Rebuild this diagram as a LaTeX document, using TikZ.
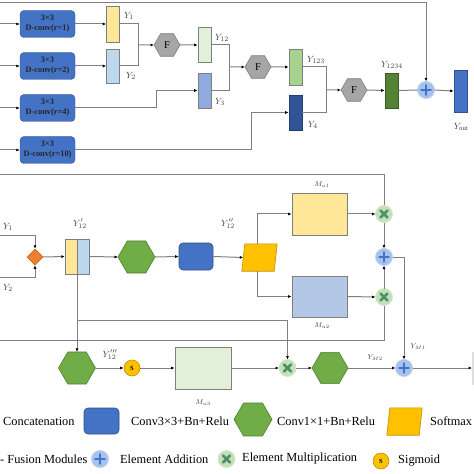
\documentclass[tikz,border=0pt]{standalone}
\usepackage{fontspec}
\setmainfont{Liberation Serif}
\usetikzlibrary{shapes.geometric,arrows.meta}
\definecolor{linegray}{HTML}{808080}
\definecolor{convblue}{HTML}{4472C4}
\definecolor{convborder}{HTML}{2F528F}
\definecolor{fyel}{HTML}{FFE699}
\definecolor{flblue}{HTML}{BDD7EE}
\definecolor{flgreen}{HTML}{E2F0D9}
\definecolor{fmblue}{HTML}{8FAADC}
\definecolor{fmgreen}{HTML}{A9D18E}
\definecolor{fdblue}{HTML}{2F5597}
\definecolor{fdgreen}{HTML}{548235}
\definecolor{hexgray}{HTML}{A6A6A6}
\definecolor{hexgrayb}{HTML}{7F7F7F}
\definecolor{hexgreen}{HTML}{70AD47}
\definecolor{hexgreenb}{HTML}{507E32}
\definecolor{plusfill}{HTML}{A4C2EC}
\definecolor{plusblue}{HTML}{4472C4}
\definecolor{multfill}{HTML}{C5E0B4}
\definecolor{multx}{HTML}{4F8F6F}
\definecolor{smyel}{HTML}{FFC000}
\definecolor{smborder}{HTML}{BF9000}
\definecolor{diaor}{HTML}{ED7D31}
\definecolor{diaorb}{HTML}{C55A11}
\definecolor{mablue}{HTML}{B4C7E7}
\definecolor{labgray}{HTML}{404040}
\tikzset{
  conn/.style={draw=linegray, line width=1bp},
  arr/.style={conn, -{Latex[length=3.5bp,width=3bp,color=black]}},
  dconv/.style={draw=convborder, fill=convblue, rounded corners=4bp, minimum width=55bp, minimum height=27bp, inner sep=0, font=\fontsize{8.4}{9.8}\selectfont\bfseries, align=center, text=black!85},
  feat/.style={draw=hexgrayb, line width=0.6bp, minimum width=13bp, inner sep=0},
  hexF/.style={regular polygon, regular polygon sides=6, minimum size=26bp, inner sep=0, outer sep=0, fill=hexgray, draw=hexgrayb, line width=0.6bp, font=\fontsize{10.5}{10.5}\selectfont},
  hexG/.style={regular polygon, regular polygon sides=6, minimum size=37bp, inner sep=0, outer sep=0, fill=hexgreen, draw=hexgreenb, line width=0.6bp},
  cbox/.style={draw=convborder, fill=convblue, rounded corners=4bp, minimum width=34bp, minimum height=27bp, inner sep=0, line width=0.6bp},
  plusn/.style={circle, minimum size=17bp, inner sep=0, outer sep=0, fill=plusfill, draw=plusfill!70!white, line width=0.8bp,
    path picture={\draw[plusblue, line width=2.6bp, line cap=round]
      ([xshift=-4.6bp]path picture bounding box.center) -- ([xshift=4.6bp]path picture bounding box.center)
      ([yshift=-4.6bp]path picture bounding box.center) -- ([yshift=4.6bp]path picture bounding box.center);}},
  multn/.style={circle, minimum size=17bp, inner sep=0, outer sep=0, fill=multfill, draw=multfill!70!white, line width=0.8bp,
    path picture={\draw[multx, line width=2.6bp, line cap=round]
      ([shift={(-3.4bp,-3.4bp)}]path picture bounding box.center) -- ([shift={(3.4bp,3.4bp)}]path picture bounding box.center)
      ([shift={(-3.4bp,3.4bp)}]path picture bounding box.center) -- ([shift={(3.4bp,-3.4bp)}]path picture bounding box.center);}},
  sign/.style={circle, minimum size=16bp, inner sep=0, fill=smyel, draw=smborder, line width=0.6bp, font=\fontsize{6.5}{7}\selectfont\bfseries},
  mabox/.style={draw=hexgrayb, line width=0.8bp, minimum width=55bp, minimum height=42bp, inner sep=0},
  lab/.style={font=\fontsize{9.5}{10}\selectfont, text=labgray, inner sep=0},
  slab/.style={font=\fontsize{7}{8}\selectfont, text=labgray, inner sep=0},
  leg/.style={font=\fontsize{12.4}{14}\selectfont, anchor=west, inner sep=0},
}
\begin{document}
\begin{tikzpicture}[x=1bp,y=-1bp]
\useasboundingbox (0,0) rectangle (474,474);
\clip (0,0) rectangle (474,474);
\fill[white] (0,0) rectangle (474,474);

% ---------------- top panel ----------------
\node[dconv] (dc1) at (47.5,24) {3×3\\D-conv(r=1)};
\node[dconv] (dc2) at (47.5,66) {3×3\\D-conv(r=2)};
\node[dconv] (dc3) at (47.5,108) {3×3\\D-conv(r=4)};
\node[dconv] (dc4) at (47.5,150) {3×3\\D-conv(r=10)};
\coordinate (i1) at (0,24);
\coordinate (i2) at (0,66);
\coordinate (i3) at (0,108);
\coordinate (i4) at (0,150);
\draw[arr] (i1) -- (dc1.west);
\draw[arr] (i2) -- (dc2.west);
\draw[arr] (i3) -- (dc3.west);
\draw[arr] (i4) -- (dc4.west);

\node[feat, fill=fyel, minimum height=36bp] (y1) at (113,24) {};
\node[feat, fill=flblue, minimum height=34bp] (y2) at (113,66) {};
\node[hexF] (F1) at (167,45) {F};
\node[feat, fill=flgreen, minimum height=35bp] (y12) at (204.5,45) {};
\node[feat, fill=fmblue, minimum height=35bp] (y3) at (204.5,90.5) {};
\node[hexF] (F2) at (258,67) {F};
\node[feat, fill=fmgreen, minimum height=36bp] (y123) at (295.5,67) {};
\node[feat, fill=fdblue, draw=fdblue!70!black, minimum height=35bp] (y4) at (295.5,112.5) {};
\node[hexF] (F3) at (354,90) {F};
\node[feat, fill=fdgreen, draw=fdgreen!70!black, minimum height=35bp] (y1234) at (391.5,90.5) {};
\node[plusn] (p1) at (426,90) {};
\node[feat, fill=convblue, draw=convborder, minimum height=42bp] (yout) at (460.5,91) {};

\draw[arr] (dc1.east) -- (y1.west);
\draw[arr] (dc2.east) -- (y2.west);
\coordinate (j1) at (138,45);
\draw[conn] (y1.east) -| (j1);
\draw[conn] (y2.east) -| (j1);
\draw[arr] (j1) -- (F1.west);
\draw[arr] (F1.east) -- (y12.west);
\draw[arr] (dc3.east) -- ++(81,0) |- (y3.west);
\coordinate (j2) at (229,67);
\draw[conn] (y12.east) -| (j2);
\draw[conn] (y3.east) -| (j2);
\draw[arr] (j2) -- (F2.west);
\draw[arr] (F2.east) -- (y123.west);
\draw[arr] (dc4.east) -- ++(176,0) |- (y4.west);
\coordinate (j3) at (326,90);
\draw[conn] (y123.east) -| (j3);
\draw[conn] (y4.east) -| (j3);
\draw[arr] (j3) -- (F3.west);
\draw[arr] (F3.east) -- (y1234.west);
\draw[conn] (y1234.east) -- (p1.west);
\draw[arr] (p1.east) -- (yout.west);
\coordinate (t0) at (0,3);
\draw[arr] (t0) -| (p1.north);

\node[lab] (ly1) at (129,16) {$Y_1$};
\node[lab] (ly2) at (131,76) {$Y_2$};
\node[lab] (ly12) at (222,38) {$Y_{12}$};
\node[lab] (ly3) at (220,102) {$Y_3$};
\node[lab] (ly123) at (316,60) {$Y_{123}$};
\node[lab] (ly4) at (313,125) {$Y_4$};
\node[lab] (ly1234) at (392,65) {$Y_{1234}$};
\node[lab] (lyout) at (461,127) {$Y_{\mathrm{out}}$};

% ---------------- middle panel ----------------
\coordinate (m0) at (0,175);
\coordinate (a0) at (0,235);
\coordinate (b0) at (0,277);
\node[diamond, fill=diaor, draw=diaorb, line width=0.5bp, minimum width=16bp, minimum height=16bp, inner sep=0] (dia) at (35,257) {};
\node[minimum width=24bp, minimum height=35bp, inner sep=0] (cat) at (77,256.5) {};
\fill[fyel] (cat.north west) rectangle (cat.south);
\fill[flblue] (cat.north) rectangle (cat.south east);
\draw[hexgrayb, line width=0.6bp] (cat.north west) rectangle (cat.south east);
\draw[hexgrayb, line width=0.6bp] (cat.north) -- (cat.south);
\node[hexG] (h1) at (136.5,257) {};
\node[cbox] (cb) at (196,256.5) {};
\node[minimum width=32bp, minimum height=27bp, inner sep=0] (sm) at (259.5,257.5) {};
\filldraw[fill=smyel, draw=smborder, line width=0.6bp] ([xshift=1.5bp]sm.north west) -- ([xshift=1.5bp]sm.north east) -- ([xshift=-1.5bp]sm.south east) -- ([xshift=-1.5bp]sm.south west) -- cycle;
\node[mabox, fill=fyel] (ma1) at (319.5,214) {};
\node[mabox, fill=mablue, minimum height=41bp] (ma2) at (319.5,296.5) {};
\node[multn] (x1) at (384,214) {};
\node[plusn] (p2) at (384,257) {};
\node[multn] (x2) at (384,297) {};

\draw[conn] (m0) -| (x1.north);
\draw[arr] (a0) -| (dia.north);
\draw[arr] (b0) -| (dia.south);
\draw[arr] (dia.east) -- (cat.west);
\draw[arr] (cat.east) -- (h1.west);
\draw[arr] (h1.east) -- (cb.west);
\draw[arr] (cb.east) -- (sm.west);
\draw[arr] ([xshift=-2.5bp]sm.north) |- (ma1.west);
\draw[arr] ([xshift=-2.5bp]sm.south) |- (ma2.west);
\draw[arr] (ma1.east) -- (x1.west);
\draw[arr] (ma2.east) -- (x2.west);
\draw[arr] (x1.south) -- (p2.north);
\draw[arr] (x2.north) -- (p2.south);
\coordinate (m1) at (0,340);
\draw[conn] (x2.south) |- (m1);

\node[lab] (lya) at (8,227) {$Y_1$};
\node[lab] (lyb) at (8,288) {$Y_2$};
\node[lab] (ly12p) at (80,224) {$Y'_{12}$};
\node[lab] (ly12pp) at (228,224) {$Y''_{12}$};
\node[slab] (lma1) at (322,185) {$M_{a1}$};
\node[slab] (lma2) at (322,326) {$M_{a2}$};

% ---------------- bottom row ----------------
\node[hexG] (h2) at (77,368) {};
\node[sign] (s1) at (132,368) {S};
\node[mabox, fill=flgreen, minimum width=56bp] (ma3) at (203,368) {};
\node[multn] (x3) at (287.5,368) {};
\node[hexG, minimum size=36bp] (h3) at (330,368) {};
\node[plusn] (p3) at (404,368) {};
\fill[gray!25] (472,352) rectangle (480,385);
\coordinate (e1) at (472,368);
\coordinate (c320) at (77,320);

\draw[arr] (cat.south) -- (h2.north);
\draw[arr] (c320) -| (x3.north);
\draw[arr] (p2.east) -| (p3.north);
\draw[arr] (h2.east) -- (s1.west);
\draw[arr] (s1.east) -- (ma3.west);
\draw[arr] (ma3.east) -- (x3.west);
\draw[arr] (x3.east) -- (h3.west);
\draw[arr] (h3.east) -- (p3.west);
\draw[arr] (p3.east) -- (e1);

\node[lab] (ly12ppp) at (110,355) {$Y'''_{12}$};
\node[slab] (lma3) at (203,403) {$M_{a3}$};
\node[slab] (lym1) at (418,347) {$Y_{M1}$};
\node[slab] (lym2) at (375,358) {$Y_{M2}$};

% ---------------- legend ----------------
\node[leg] (t1) at (3,421) {Concatenation};
\node[cbox, minimum width=35bp, minimum height=26bp] (lg1) at (101.5,421) {};
\node[leg] (t2) at (131,421) {Conv3×3+Bn+Relu};
\node[hexG, minimum size=38bp] (lg2) at (253,419.5) {};
\node[leg] (t3) at (277,421) {Conv1×1+Bn+Relu};
\node[minimum width=32bp, minimum height=27bp, inner sep=0] (lg3) at (404.5,421.5) {};
\filldraw[fill=smyel, draw=smborder, line width=0.6bp] ([xshift=1.5bp]lg3.north west) -- ([xshift=1.5bp]lg3.north east) -- ([xshift=-1.5bp]lg3.south east) -- ([xshift=-1.5bp]lg3.south west) -- cycle;
\node[leg] (t4) at (430,421) {Softmax};

\node[leg] (t5) at (0,459) {- Fusion Modules};
\node[plusn] (lg4) at (100,459) {};
\node[leg] (t6) at (120,459) {Element Addition};
\node[multn] (lg5) at (226.5,459) {};
\node[leg] (t7) at (242,459) {Element Multiplication};
\node[sign] (lg6) at (381,461) {S};
\node[leg] (t8) at (398,461) {Sigmoid};
\end{tikzpicture}
\end{document}
